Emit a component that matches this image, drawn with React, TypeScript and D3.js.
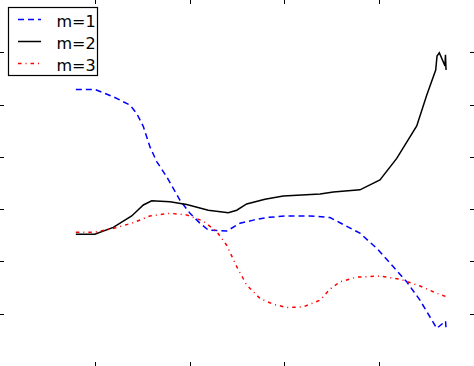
import React from 'react';
import * as d3 from 'd3';

// values (x: 0..5, y: 0..7)
const m1X = [0.80, 1.00, 1.195, 1.371, 1.442, 1.512, 1.582, 1.653, 1.758, 1.899, 2.004, 2.110, 2.197, 2.391, 2.532, 2.672, 2.813, 3.024, 3.270, 3.481, 3.586, 3.797, 3.974, 4.149, 4.290, 4.430, 4.607, 4.700, 4.705];
const m1Y = [5.29, 5.29, 5.15, 4.99, 4.83, 4.58, 4.19, 3.91, 3.62, 3.17, 2.92, 2.73, 2.60, 2.58, 2.73, 2.79, 2.84, 2.87, 2.87, 2.84, 2.74, 2.54, 2.25, 1.90, 1.61, 1.26, 0.72, 0.86, 0.72];

const m2X = [0.80, 1.00, 1.195, 1.389, 1.512, 1.600, 1.793, 1.969, 2.197, 2.408, 2.497, 2.602, 2.795, 2.988, 3.376, 3.516, 3.797, 4.008, 4.185, 4.396, 4.501, 4.596, 4.610, 4.634, 4.694, 4.699, 4.705];
const m2Y = [2.52, 2.52, 2.65, 2.87, 3.08, 3.16, 3.14, 3.09, 2.98, 2.93, 2.98, 3.10, 3.19, 3.25, 3.29, 3.33, 3.37, 3.56, 3.97, 4.59, 5.18, 5.66, 5.93, 5.99, 5.74, 5.95, 5.66];

const m3X = [0.80, 1.00, 1.195, 1.406, 1.582, 1.793, 1.969, 2.145, 2.286, 2.391, 2.497, 2.602, 2.743, 2.883, 3.024, 3.199, 3.376, 3.481, 3.586, 3.763, 4.008, 4.219, 4.430, 4.607, 4.701];
const m3Y = [2.56, 2.56, 2.63, 2.74, 2.87, 2.92, 2.89, 2.77, 2.57, 2.31, 1.90, 1.55, 1.29, 1.18, 1.12, 1.13, 1.26, 1.47, 1.61, 1.70, 1.72, 1.66, 1.53, 1.39, 1.33];

const seriesNames = ['m=1', 'm=2', 'm=3'];
const xTicks = [1, 2, 3, 4];
const yTicks = [1, 2, 3, 4, 5, 6];

const width = 474;
const height = 366;

export default function App() {
  const x = d3.scaleLinear().domain([0, 5]).range([0, width]);
  const y = d3.scaleLinear().domain([0, 7]).range([height, 0]);

  const line = d3.line<[number, number]>()
    .x(d => x(d[0]))
    .y(d => y(d[1]));

  const series = [
    { name: seriesNames[0], xs: m1X, ys: m1Y, color: '#0000ff', dash: '6,4' },
    { name: seriesNames[1], xs: m2X, ys: m2Y, color: '#000000', dash: null },
    { name: seriesNames[2], xs: m3X, ys: m3Y, color: '#ff0000', dash: '3.5,4,1,4' },
  ];

  const tickLen = 4;

  return (
    <svg width={width} height={height}
      style={{ position: 'absolute', left: 0, top: 0, background: '#fff' }}
      fontFamily="DejaVu Sans, sans-serif">
      {/* ticks, inward on all four sides */}
      <g stroke="#000" strokeWidth={1}>
        {xTicks.map(t => (
          <g key={'x' + t}>
            <line x1={Math.round(x(t)) + 0.5} x2={Math.round(x(t)) + 0.5} y1={0} y2={tickLen} />
            <line x1={Math.round(x(t)) + 0.5} x2={Math.round(x(t)) + 0.5} y1={height} y2={height - tickLen} />
          </g>
        ))}
        {yTicks.map(t => (
          <g key={'y' + t}>
            <line x1={0} x2={tickLen} y1={Math.round(y(t)) + 0.5} y2={Math.round(y(t)) + 0.5} />
            <line x1={width} x2={width - tickLen} y1={Math.round(y(t)) + 0.5} y2={Math.round(y(t)) + 0.5} />
          </g>
        ))}
      </g>

      {series.map(s => (
        <path key={s.name}
          d={line(s.xs.map((v, i) => [v, s.ys[i]] as [number, number])) || ''}
          fill="none" stroke={s.color} strokeWidth={1.5}
          strokeDasharray={s.dash || undefined} />
      ))}

      {/* legend */}
      <g>
        <rect x={8.5} y={7.5} width={89} height={68} fill="#fff" stroke="#000" strokeWidth={1.2} />
        {series.map((s, i) => {
          const cy = 19.5 + i * 22;
          return (
            <g key={'lg' + s.name}>
              <line x1={18} x2={41} y1={cy} y2={cy} stroke={s.color} strokeWidth={1.5}
                strokeDasharray={s.dash || undefined} />
              <text x={56.5} y={cy + 7} fontSize={16} fill="#000">{s.name}</text>
            </g>
          );
        })}
      </g>
    </svg>
  );
}
